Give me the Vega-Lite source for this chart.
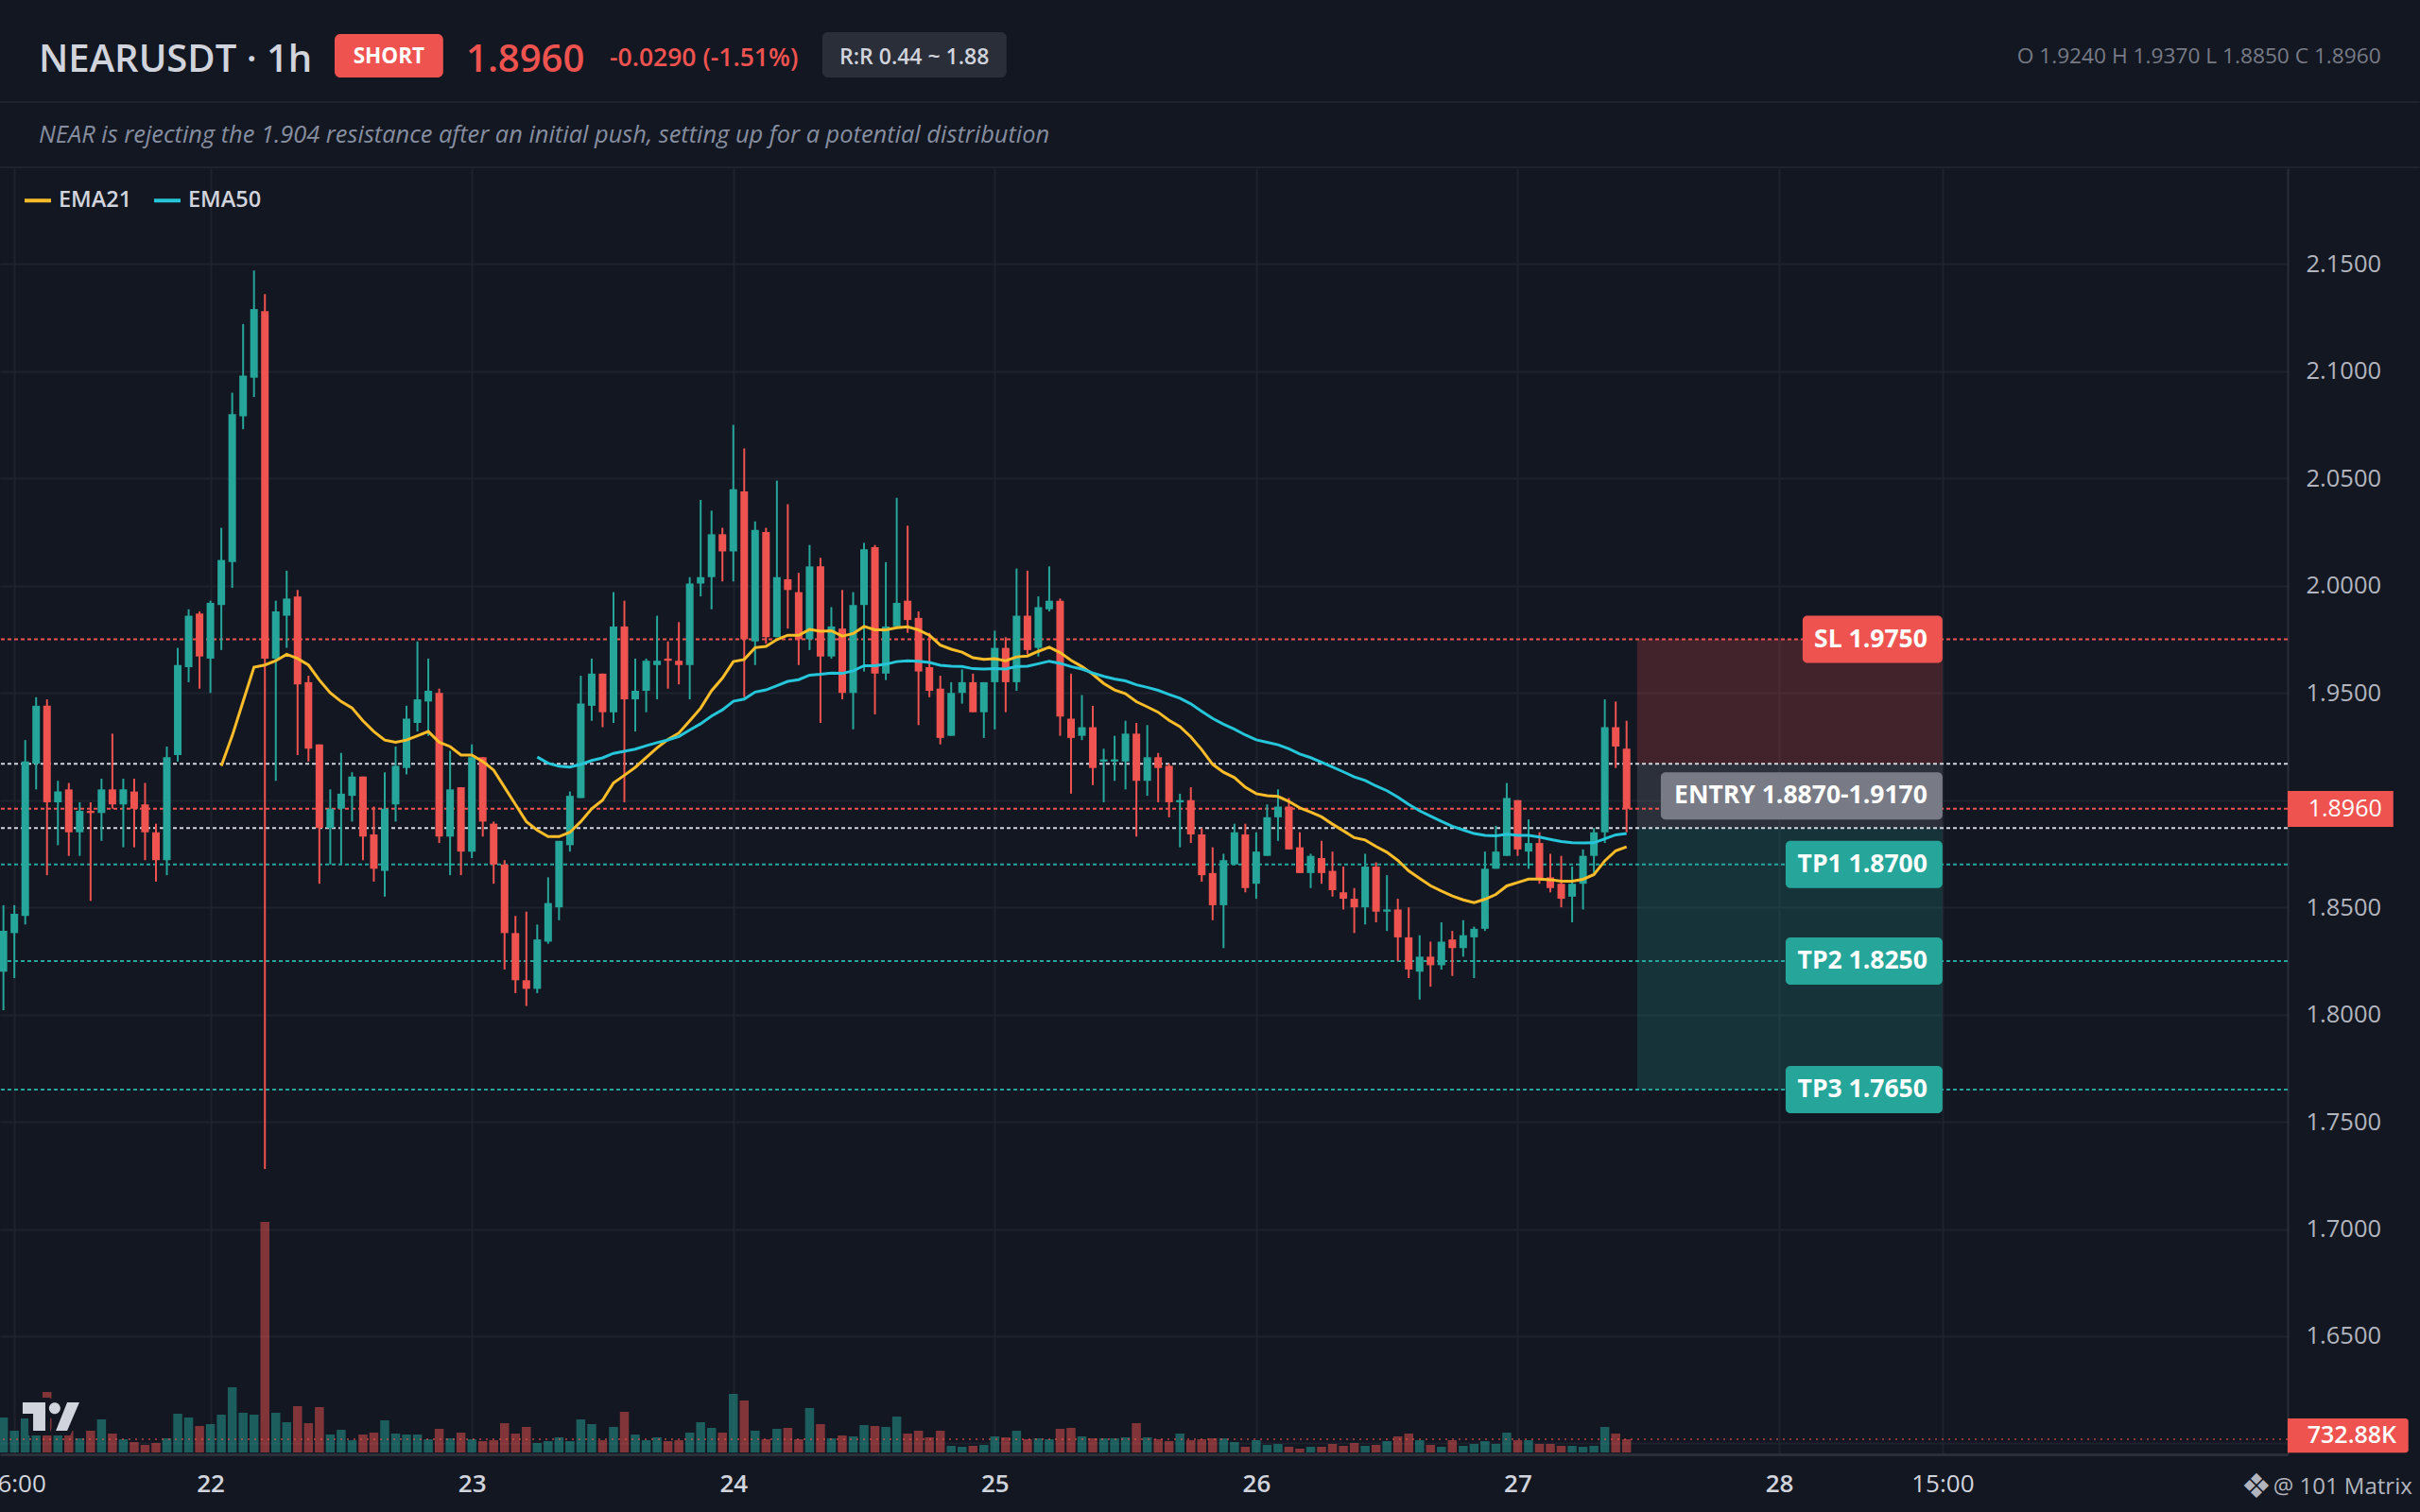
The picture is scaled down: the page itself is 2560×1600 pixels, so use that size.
{"$schema":"https://vega.github.io/schema/vega-lite/v6.json","width":2420,"height":1361,"autosize":"none","padding":{"left":0,"top":178,"right":140,"bottom":61},"background":"#131722","config":{"view":{"stroke":null},"font":"Open Sans"},
"title":{"text":"NEARUSDT · 1h","subtitle":"NEAR is rejecting the 1.904 resistance after an initial push, setting up for a potential distribution","anchor":"start","frame":"group","dx":41,"offset":-122,"font":"Open Sans","fontSize":40,"fontWeight":600,"color":"#d1d4dc","subtitleFont":"Open Sans","subtitleFontSize":25.4,"subtitleFontStyle":"italic","subtitleColor":"#868e9f","subtitlePadding":47},
"data":{"values":[
{"t":"2025-12-21T05:00Z","o":1.820,"h":1.851,"l":1.802,"c":1.839,"v":1937},
{"t":"2025-12-21T06:00Z","o":1.838,"h":1.851,"l":1.817,"c":1.847,"v":1204},
{"t":"2025-12-21T07:00Z","o":1.846,"h":1.928,"l":1.842,"c":1.918,"v":1937},
{"t":"2025-12-21T08:00Z","o":1.917,"h":1.948,"l":1.905,"c":1.944,"v":995},
{"t":"2025-12-21T09:00Z","o":1.944,"h":1.947,"l":1.865,"c":1.899,"v":3350},
{"t":"2025-12-21T10:00Z","o":1.899,"h":1.909,"l":1.879,"c":1.904,"v":995},
{"t":"2025-12-21T11:00Z","o":1.905,"h":1.908,"l":1.874,"c":1.885,"v":1204},
{"t":"2025-12-21T12:00Z","o":1.885,"h":1.899,"l":1.874,"c":1.895,"v":785},
{"t":"2025-12-21T13:00Z","o":1.895,"h":1.899,"l":1.853,"c":1.894,"v":1204},
{"t":"2025-12-21T14:00Z","o":1.894,"h":1.910,"l":1.881,"c":1.905,"v":1832},
{"t":"2025-12-21T15:00Z","o":1.905,"h":1.931,"l":1.896,"c":1.898,"v":1047},
{"t":"2025-12-21T16:00Z","o":1.898,"h":1.910,"l":1.878,"c":1.905,"v":733},
{"t":"2025-12-21T17:00Z","o":1.904,"h":1.910,"l":1.878,"c":1.896,"v":576},
{"t":"2025-12-21T18:00Z","o":1.898,"h":1.908,"l":1.872,"c":1.885,"v":419},
{"t":"2025-12-21T19:00Z","o":1.885,"h":1.889,"l":1.862,"c":1.872,"v":524},
{"t":"2025-12-21T20:00Z","o":1.872,"h":1.925,"l":1.865,"c":1.920,"v":785},
{"t":"2025-12-21T21:00Z","o":1.921,"h":1.971,"l":1.918,"c":1.963,"v":2146},
{"t":"2025-12-21T22:00Z","o":1.962,"h":1.989,"l":1.955,"c":1.986,"v":1937},
{"t":"2025-12-21T23:00Z","o":1.987,"h":1.988,"l":1.952,"c":1.967,"v":1466},
{"t":"2025-12-22T00:00Z","o":1.966,"h":1.993,"l":1.950,"c":1.992,"v":1571},
{"t":"2025-12-22T01:00Z","o":1.991,"h":2.027,"l":1.970,"c":2.012,"EMA21":1.916,"v":2094},
{"t":"2025-12-22T02:00Z","o":2.011,"h":2.090,"l":1.999,"c":2.080,"EMA21":1.930,"v":3612},
{"t":"2025-12-22T03:00Z","o":2.079,"h":2.122,"l":2.073,"c":2.098,"EMA21":1.946,"v":2199},
{"t":"2025-12-22T04:00Z","o":2.097,"h":2.147,"l":2.088,"c":2.129,"EMA21":1.962,"v":2094},
{"t":"2025-12-22T05:00Z","o":2.128,"h":2.136,"l":1.728,"c":1.966,"EMA21":1.963,"v":12773},
{"t":"2025-12-22T06:00Z","o":1.966,"h":1.993,"l":1.909,"c":1.988,"EMA21":1.965,"v":2199},
{"t":"2025-12-22T07:00Z","o":1.986,"h":2.007,"l":1.971,"c":1.994,"EMA21":1.968,"v":1675},
{"t":"2025-12-22T08:00Z","o":1.995,"h":1.998,"l":1.921,"c":1.954,"EMA21":1.966,"v":2565},
{"t":"2025-12-22T09:00Z","o":1.955,"h":1.958,"l":1.918,"c":1.924,"EMA21":1.963,"v":1623},
{"t":"2025-12-22T10:00Z","o":1.926,"h":1.926,"l":1.861,"c":1.887,"EMA21":1.956,"v":2513},
{"t":"2025-12-22T11:00Z","o":1.887,"h":1.905,"l":1.870,"c":1.896,"EMA21":1.950,"v":995},
{"t":"2025-12-22T12:00Z","o":1.896,"h":1.922,"l":1.870,"c":1.903,"EMA21":1.946,"v":1256},
{"t":"2025-12-22T13:00Z","o":1.902,"h":1.913,"l":1.890,"c":1.911,"EMA21":1.943,"v":681},
{"t":"2025-12-22T14:00Z","o":1.911,"h":1.911,"l":1.872,"c":1.883,"EMA21":1.937,"v":995},
{"t":"2025-12-22T15:00Z","o":1.884,"h":1.897,"l":1.862,"c":1.868,"EMA21":1.932,"v":1099},
{"t":"2025-12-22T16:00Z","o":1.867,"h":1.913,"l":1.855,"c":1.896,"EMA21":1.928,"v":1780},
{"t":"2025-12-22T17:00Z","o":1.898,"h":1.925,"l":1.890,"c":1.916,"EMA21":1.927,"v":1047},
{"t":"2025-12-22T18:00Z","o":1.915,"h":1.944,"l":1.912,"c":1.938,"EMA21":1.928,"v":995},
{"t":"2025-12-22T19:00Z","o":1.936,"h":1.974,"l":1.932,"c":1.947,"EMA21":1.930,"v":995},
{"t":"2025-12-22T20:00Z","o":1.946,"h":1.966,"l":1.930,"c":1.951,"EMA21":1.932,"v":733},
{"t":"2025-12-22T21:00Z","o":1.950,"h":1.952,"l":1.880,"c":1.883,"EMA21":1.927,"v":1309},
{"t":"2025-12-22T22:00Z","o":1.883,"h":1.923,"l":1.865,"c":1.905,"EMA21":1.925,"v":785},
{"t":"2025-12-22T23:00Z","o":1.906,"h":1.906,"l":1.865,"c":1.876,"EMA21":1.921,"v":1099},
{"t":"2025-12-23T00:00Z","o":1.876,"h":1.926,"l":1.873,"c":1.920,"EMA21":1.921,"v":733},
{"t":"2025-12-23T01:00Z","o":1.920,"h":1.920,"l":1.883,"c":1.890,"EMA21":1.918,"v":628},
{"t":"2025-12-23T02:00Z","o":1.889,"h":1.890,"l":1.861,"c":1.870,"EMA21":1.914,"v":681},
{"t":"2025-12-23T03:00Z","o":1.870,"h":1.872,"l":1.821,"c":1.838,"EMA21":1.906,"v":1623},
{"t":"2025-12-23T04:00Z","o":1.838,"h":1.846,"l":1.810,"c":1.816,"EMA21":1.898,"v":1047},
{"t":"2025-12-23T05:00Z","o":1.816,"h":1.848,"l":1.804,"c":1.812,"EMA21":1.890,"v":1413},
{"t":"2025-12-23T06:00Z","o":1.812,"h":1.842,"l":1.810,"c":1.835,"EMA21":1.886,"EMA50":1.9201,"v":524},
{"t":"2025-12-23T07:00Z","o":1.834,"h":1.864,"l":1.833,"c":1.852,"EMA21":1.883,"EMA50":1.9172,"v":628},
{"t":"2025-12-23T08:00Z","o":1.850,"h":1.881,"l":1.844,"c":1.881,"EMA21":1.883,"EMA50":1.9158,"v":838},
{"t":"2025-12-23T09:00Z","o":1.879,"h":1.904,"l":1.876,"c":1.902,"EMA21":1.885,"EMA50":1.9154,"v":628},
{"t":"2025-12-23T10:00Z","o":1.901,"h":1.958,"l":1.901,"c":1.945,"EMA21":1.890,"EMA50":1.9167,"v":1832},
{"t":"2025-12-23T11:00Z","o":1.944,"h":1.966,"l":1.937,"c":1.959,"EMA21":1.896,"EMA50":1.9185,"v":1571},
{"t":"2025-12-23T12:00Z","o":1.959,"h":1.959,"l":1.934,"c":1.941,"EMA21":1.900,"EMA50":1.9197,"v":681},
{"t":"2025-12-23T13:00Z","o":1.941,"h":1.997,"l":1.936,"c":1.981,"EMA21":1.9080,"EMA50":1.9218,"v":1413},
{"t":"2025-12-23T14:00Z","o":1.981,"h":1.993,"l":1.899,"c":1.947,"EMA21":1.9116,"EMA50":1.9228,"v":2251},
{"t":"2025-12-23T15:00Z","o":1.947,"h":1.966,"l":1.932,"c":1.951,"EMA21":1.9153,"EMA50":1.9238,"v":995},
{"t":"2025-12-23T16:00Z","o":1.951,"h":1.966,"l":1.941,"c":1.965,"EMA21":1.9199,"EMA50":1.9254,"v":681},
{"t":"2025-12-23T17:00Z","o":1.963,"h":1.986,"l":1.947,"c":1.965,"EMA21":1.9244,"EMA50":1.9268,"v":838},
{"t":"2025-12-23T18:00Z","o":1.966,"h":1.974,"l":1.952,"c":1.965,"EMA21":1.9283,"EMA50":1.9281,"v":628},
{"t":"2025-12-23T19:00Z","o":1.965,"h":1.983,"l":1.954,"c":1.963,"EMA21":1.9313,"EMA50":1.9297,"v":681},
{"t":"2025-12-23T20:00Z","o":1.963,"h":2.004,"l":1.947,"c":2.001,"EMA21":1.9370,"EMA50":1.9327,"v":1099},
{"t":"2025-12-23T21:00Z","o":2.001,"h":2.040,"l":1.995,"c":2.004,"EMA21":1.9429,"EMA50":1.9356,"v":1675},
{"t":"2025-12-23T22:00Z","o":2.004,"h":2.035,"l":1.989,"c":2.024,"EMA21":1.9510,"EMA50":1.9392,"v":1361},
{"t":"2025-12-23T23:00Z","o":2.024,"h":2.027,"l":2.002,"c":2.016,"EMA21":1.9569,"EMA50":1.9421,"v":1099},
{"t":"2025-12-24T00:00Z","o":2.016,"h":2.075,"l":2.002,"c":2.045,"EMA21":1.9646,"EMA50":1.9461,"v":3246},
{"t":"2025-12-24T01:00Z","o":2.044,"h":2.064,"l":1.948,"c":1.975,"EMA21":1.9656,"EMA50":1.9471,"v":2879},
{"t":"2025-12-24T02:00Z","o":1.974,"h":2.030,"l":1.963,"c":2.026,"EMA21":1.9711,"EMA50":1.9504,"v":1204},
{"t":"2025-12-24T03:00Z","o":2.025,"h":2.027,"l":1.973,"c":1.976,"EMA21":1.9717,"EMA50":1.9514,"v":733},
{"t":"2025-12-24T04:00Z","o":1.976,"h":2.049,"l":1.976,"c":2.004,"EMA21":1.9749,"EMA50":1.9534,"v":1309},
{"t":"2025-12-24T05:00Z","o":2.003,"h":2.038,"l":1.980,"c":1.998,"EMA21":1.9769,"EMA50":1.9554,"v":1361},
{"t":"2025-12-24T06:00Z","o":1.997,"h":2.006,"l":1.963,"c":1.975,"EMA21":1.9769,"EMA50":1.9562,"v":733},
{"t":"2025-12-24T07:00Z","o":1.975,"h":2.019,"l":1.970,"c":2.009,"EMA21":1.9796,"EMA50":1.9583,"v":2460},
{"t":"2025-12-24T08:00Z","o":2.009,"h":2.013,"l":1.936,"c":1.967,"EMA21":1.9788,"EMA50":1.9587,"v":1571},
{"t":"2025-12-24T09:00Z","o":1.967,"h":1.990,"l":1.966,"c":1.981,"EMA21":1.9790,"EMA50":1.9593,"v":785},
{"t":"2025-12-24T10:00Z","o":1.980,"h":1.998,"l":1.947,"c":1.950,"EMA21":1.9765,"EMA50":1.9591,"v":942},
{"t":"2025-12-24T11:00Z","o":1.950,"h":1.997,"l":1.933,"c":1.991,"EMA21":1.9777,"EMA50":1.9603,"v":890},
{"t":"2025-12-24T12:00Z","o":1.991,"h":2.020,"l":1.960,"c":2.017,"EMA21":1.9810,"EMA50":1.9627,"v":1518},
{"t":"2025-12-24T13:00Z","o":2.018,"h":2.019,"l":1.940,"c":1.959,"EMA21":1.9794,"EMA50":1.9627,"v":1466},
{"t":"2025-12-24T14:00Z","o":1.959,"h":2.011,"l":1.956,"c":1.981,"EMA21":1.9794,"EMA50":1.9634,"v":1413},
{"t":"2025-12-24T15:00Z","o":1.981,"h":2.041,"l":1.981,"c":1.992,"EMA21":1.9804,"EMA50":1.9646,"v":1989},
{"t":"2025-12-24T16:00Z","o":1.993,"h":2.028,"l":1.978,"c":1.984,"EMA21":1.9808,"EMA50":1.9650,"v":1047},
{"t":"2025-12-24T17:00Z","o":1.985,"h":1.988,"l":1.935,"c":1.960,"EMA21":1.9794,"EMA50":1.9648,"v":1204},
{"t":"2025-12-24T18:00Z","o":1.962,"h":1.978,"l":1.948,"c":1.951,"EMA21":1.9769,"EMA50":1.9642,"v":838},
{"t":"2025-12-24T19:00Z","o":1.952,"h":1.958,"l":1.926,"c":1.929,"EMA21":1.9723,"EMA50":1.9629,"v":1204},
{"t":"2025-12-24T20:00Z","o":1.930,"h":1.955,"l":1.930,"c":1.950,"EMA21":1.9704,"EMA50":1.9625,"v":366},
{"t":"2025-12-24T21:00Z","o":1.950,"h":1.961,"l":1.945,"c":1.955,"EMA21":1.9690,"EMA50":1.9623,"v":314},
{"t":"2025-12-24T22:00Z","o":1.955,"h":1.959,"l":1.941,"c":1.941,"EMA21":1.9664,"EMA50":1.9613,"v":366},
{"t":"2025-12-24T23:00Z","o":1.941,"h":1.955,"l":1.929,"c":1.955,"EMA21":1.9656,"EMA50":1.9611,"v":419},
{"t":"2025-12-25T00:00Z","o":1.955,"h":1.979,"l":1.933,"c":1.971,"EMA21":1.9660,"EMA50":1.9613,"v":890},
{"t":"2025-12-25T01:00Z","o":1.971,"h":1.976,"l":1.941,"c":1.955,"EMA21":1.9650,"EMA50":1.9611,"v":838},
{"t":"2025-12-25T02:00Z","o":1.955,"h":2.008,"l":1.951,"c":1.986,"EMA21":1.9668,"EMA50":1.9623,"v":1204},
{"t":"2025-12-25T03:00Z","o":1.986,"h":2.007,"l":1.968,"c":1.970,"EMA21":1.9672,"EMA50":1.9625,"v":733},
{"t":"2025-12-25T04:00Z","o":1.971,"h":1.995,"l":1.967,"c":1.990,"EMA21":1.9694,"EMA50":1.9636,"v":785},
{"t":"2025-12-25T05:00Z","o":1.989,"h":2.009,"l":1.988,"c":1.993,"EMA21":1.9713,"EMA50":1.9648,"v":733},
{"t":"2025-12-25T06:00Z","o":1.993,"h":1.994,"l":1.930,"c":1.939,"EMA21":1.9688,"EMA50":1.9638,"v":1309},
{"t":"2025-12-25T07:00Z","o":1.938,"h":1.959,"l":1.903,"c":1.929,"EMA21":1.9652,"EMA50":1.9623,"v":1361},
{"t":"2025-12-25T08:00Z","o":1.930,"h":1.949,"l":1.928,"c":1.934,"EMA21":1.9623,"EMA50":1.9611,"v":890},
{"t":"2025-12-25T09:00Z","o":1.934,"h":1.944,"l":1.907,"c":1.915,"EMA21":1.9587,"EMA50":1.9593,"v":785},
{"t":"2025-12-25T10:00Z","o":1.918,"h":1.924,"l":1.899,"c":1.919,"EMA21":1.9544,"EMA50":1.9577,"v":785},
{"t":"2025-12-25T11:00Z","o":1.918,"h":1.930,"l":1.909,"c":1.919,"EMA21":1.9514,"EMA50":1.9565,"v":785},
{"t":"2025-12-25T12:00Z","o":1.918,"h":1.937,"l":1.905,"c":1.931,"EMA21":1.9496,"EMA50":1.9556,"v":838},
{"t":"2025-12-25T13:00Z","o":1.931,"h":1.936,"l":1.883,"c":1.909,"EMA21":1.9459,"EMA50":1.9538,"v":1623},
{"t":"2025-12-25T14:00Z","o":1.909,"h":1.935,"l":1.902,"c":1.920,"EMA21":1.9435,"EMA50":1.9526,"v":838},
{"t":"2025-12-25T15:00Z","o":1.920,"h":1.922,"l":1.899,"c":1.915,"EMA21":1.9410,"EMA50":1.9512,"v":733},
{"t":"2025-12-25T16:00Z","o":1.916,"h":1.917,"l":1.892,"c":1.899,"EMA21":1.9372,"EMA50":1.9493,"v":628},
{"t":"2025-12-25T17:00Z","o":1.899,"h":1.903,"l":1.878,"c":1.900,"EMA21":1.9343,"EMA50":1.9475,"v":1047},
{"t":"2025-12-25T18:00Z","o":1.900,"h":1.906,"l":1.880,"c":1.884,"EMA21":1.9295,"EMA50":1.9449,"v":681},
{"t":"2025-12-25T19:00Z","o":1.884,"h":1.887,"l":1.862,"c":1.865,"EMA21":1.9235,"EMA50":1.9414,"v":733},
{"t":"2025-12-25T20:00Z","o":1.866,"h":1.878,"l":1.844,"c":1.851,"EMA21":1.9167,"EMA50":1.9381,"v":785},
{"t":"2025-12-25T21:00Z","o":1.851,"h":1.875,"l":1.831,"c":1.872,"EMA21":1.9130,"EMA50":1.9354,"v":785},
{"t":"2025-12-25T22:00Z","o":1.870,"h":1.889,"l":1.870,"c":1.885,"EMA21":1.9105,"EMA50":1.9331,"v":576},
{"t":"2025-12-25T23:00Z","o":1.884,"h":1.889,"l":1.857,"c":1.859,"EMA21":1.9060,"EMA50":1.9304,"v":314},
{"t":"2025-12-26T00:00Z","o":1.861,"h":1.885,"l":1.854,"c":1.876,"EMA21":1.9030,"EMA50":1.9281,"v":681},
{"t":"2025-12-26T01:00Z","o":1.874,"h":1.898,"l":1.874,"c":1.892,"EMA21":1.9021,"EMA50":1.9270,"v":419},
{"t":"2025-12-26T02:00Z","o":1.892,"h":1.905,"l":1.881,"c":1.897,"EMA21":1.9017,"EMA50":1.9258,"v":471},
{"t":"2025-12-26T03:00Z","o":1.897,"h":1.901,"l":1.877,"c":1.877,"EMA21":1.8994,"EMA50":1.9239,"v":314},
{"t":"2025-12-26T04:00Z","o":1.878,"h":1.885,"l":1.866,"c":1.866,"EMA21":1.8964,"EMA50":1.9215,"v":209},
{"t":"2025-12-26T05:00Z","o":1.866,"h":1.875,"l":1.859,"c":1.874,"EMA21":1.8944,"EMA50":1.9198,"v":314},
{"t":"2025-12-26T06:00Z","o":1.873,"h":1.881,"l":1.861,"c":1.866,"EMA21":1.8922,"EMA50":1.9177,"v":314},
{"t":"2025-12-26T07:00Z","o":1.867,"h":1.876,"l":1.855,"c":1.858,"EMA21":1.8888,"EMA50":1.9155,"v":471},
{"t":"2025-12-26T08:00Z","o":1.857,"h":1.869,"l":1.849,"c":1.854,"EMA21":1.8857,"EMA50":1.9132,"v":366},
{"t":"2025-12-26T09:00Z","o":1.854,"h":1.859,"l":1.838,"c":1.850,"EMA21":1.8825,"EMA50":1.9108,"v":524},
{"t":"2025-12-26T10:00Z","o":1.850,"h":1.875,"l":1.842,"c":1.869,"EMA21":1.8814,"EMA50":1.9092,"v":366},
{"t":"2025-12-26T11:00Z","o":1.869,"h":1.871,"l":1.843,"c":1.848,"EMA21":1.8784,"EMA50":1.9066,"v":419},
{"t":"2025-12-26T12:00Z","o":1.848,"h":1.865,"l":1.839,"c":1.849,"EMA21":1.8757,"EMA50":1.9044,"v":628},
{"t":"2025-12-26T13:00Z","o":1.849,"h":1.854,"l":1.825,"c":1.836,"EMA21":1.8719,"EMA50":1.9014,"v":890},
{"t":"2025-12-26T14:00Z","o":1.836,"h":1.850,"l":1.817,"c":1.821,"EMA21":1.8670,"EMA50":1.8980,"v":1047},
{"t":"2025-12-26T15:00Z","o":1.820,"h":1.837,"l":1.807,"c":1.827,"EMA21":1.8635,"EMA50":1.8950,"v":681},
{"t":"2025-12-26T16:00Z","o":1.827,"h":1.834,"l":1.813,"c":1.823,"EMA21":1.8601,"EMA50":1.8925,"v":419},
{"t":"2025-12-26T17:00Z","o":1.823,"h":1.843,"l":1.821,"c":1.834,"EMA21":1.8576,"EMA50":1.8901,"v":314},
{"t":"2025-12-26T18:00Z","o":1.835,"h":1.839,"l":1.818,"c":1.831,"EMA21":1.8553,"EMA50":1.8878,"v":681},
{"t":"2025-12-26T19:00Z","o":1.831,"h":1.844,"l":1.827,"c":1.837,"EMA21":1.8535,"EMA50":1.8861,"v":366},
{"t":"2025-12-26T20:00Z","o":1.836,"h":1.841,"l":1.817,"c":1.840,"EMA21":1.8522,"EMA50":1.8844,"v":471},
{"t":"2025-12-26T21:00Z","o":1.840,"h":1.876,"l":1.839,"c":1.868,"EMA21":1.8538,"EMA50":1.8836,"v":628},
{"t":"2025-12-26T22:00Z","o":1.868,"h":1.888,"l":1.868,"c":1.876,"EMA21":1.8560,"EMA50":1.8833,"v":471},
{"t":"2025-12-26T23:00Z","o":1.874,"h":1.908,"l":1.874,"c":1.901,"EMA21":1.8600,"EMA50":1.8841,"v":1099},
{"t":"2025-12-27T00:00Z","o":1.900,"h":1.900,"l":1.874,"c":1.877,"EMA21":1.8616,"EMA50":1.8836,"v":681},
{"t":"2025-12-27T01:00Z","o":1.876,"h":1.891,"l":1.868,"c":1.880,"EMA21":1.8632,"EMA50":1.8836,"v":681},
{"t":"2025-12-27T02:00Z","o":1.880,"h":1.885,"l":1.861,"c":1.863,"EMA21":1.8632,"EMA50":1.8828,"v":471},
{"t":"2025-12-27T03:00Z","o":1.864,"h":1.875,"l":1.857,"c":1.859,"EMA21":1.8629,"EMA50":1.8817,"v":471},
{"t":"2025-12-27T04:00Z","o":1.861,"h":1.874,"l":1.850,"c":1.854,"EMA21":1.8622,"EMA50":1.8807,"v":366},
{"t":"2025-12-27T05:00Z","o":1.855,"h":1.869,"l":1.843,"c":1.861,"EMA21":1.8622,"EMA50":1.8801,"v":366},
{"t":"2025-12-27T06:00Z","o":1.861,"h":1.877,"l":1.849,"c":1.874,"EMA21":1.8631,"EMA50":1.8800,"v":314},
{"t":"2025-12-27T07:00Z","o":1.874,"h":1.887,"l":1.866,"c":1.885,"EMA21":1.8653,"EMA50":1.8801,"v":366},
{"t":"2025-12-27T08:00Z","o":1.885,"h":1.947,"l":1.880,"c":1.934,"EMA21":1.8717,"EMA50":1.8820,"v":1413},
{"t":"2025-12-27T09:00Z","o":1.934,"h":1.946,"l":1.915,"c":1.925,"EMA21":1.8764,"EMA50":1.8838,"v":1047},
{"t":"2025-12-27T10:00Z","o":1.924,"h":1.937,"l":1.885,"c":1.896,"EMA21":1.8782,"EMA50":1.8844,"v":733}
]},
"layer":[
{"layer":[
{"mark":{"type":"bar","width":9.5,"opacity":0.5},"encoding":{
"x":{"field":"t","type":"temporal","scale":{"type":"utc","padding":0,"domain":[{"year":2025,"month":12,"date":21,"hours":4,"minutes":41,"utc":true},{"year":2025,"month":12,"date":29,"hours":22,"minutes":41,"utc":true}]},"axis":{"title":null,"values":[{"year":2025,"month":12,"date":21,"hours":6,"utc":true},{"year":2025,"month":12,"date":22,"hours":0,"utc":true},{"year":2025,"month":12,"date":23,"hours":0,"utc":true},{"year":2025,"month":12,"date":24,"hours":0,"utc":true},{"year":2025,"month":12,"date":25,"hours":0,"utc":true},{"year":2025,"month":12,"date":26,"hours":0,"utc":true},{"year":2025,"month":12,"date":27,"hours":0,"utc":true},{"year":2025,"month":12,"date":28,"hours":0,"utc":true},{"year":2025,"month":12,"date":28,"hours":15,"utc":true}],"labelExpr":"utchours(datum.value)==0 ? utcFormat(datum.value,'%d') : utcFormat(datum.value,'%H:%M')","labelOverlap":false,"labelBound":false,"labelFlush":false,"labelFont":"Open Sans","labelFontSize":26,"labelFontWeight":{"condition":{"test":"utchours(datum.value)==0","value":600},"value":400},"labelColor":"#d1d4dc","labelPadding":18,"ticks":false,"grid":true,"gridColor":"#1e222d","gridWidth":2,"domain":true,"domainColor":"#2a2e39","domainWidth":3}},
"y":{"field":"v","type":"quantitative","title":"Volume (K)","stack":null,"scale":{"domain":[-105,71140],"nice":false,"zero":false},"axis":null},
"color":{"condition":{"test":"datum.c>=datum.o","value":"#26a69a"},"value":"#ef5350"}}},
{"data":{"values":[{"last":732.88}]},"mark":{"type":"rule","color":"#ef5350","opacity":0.55,"strokeWidth":2,"strokeDash":[2,5]},"encoding":{"y":{"field":"last","type":"quantitative"}}},
{"data":{"values":[{"label":"732.88K"}]},"mark":{"type":"rect","color":"#ef5350","cornerRadiusTopRight":3,"cornerRadiusBottomRight":3},"encoding":{"x":{"datum":{"year":2025,"month":12,"date":29,"hours":22,"minutes":41,"utc":true}},"x2":{"datum":{"year":2025,"month":12,"date":30,"hours":9,"minutes":46,"utc":true}},"y":{"datum":1885,"type":"quantitative"},"y2":{"datum":-10}}},
{"data":{"values":[{"label":"732.88K"}]},"mark":{"type":"text","align":"left","baseline":"middle","font":"Open Sans","fontSize":25,"fontWeight":600,"color":"#ffffff"},"encoding":{"x":{"datum":{"year":2025,"month":12,"date":30,"hours":0,"minutes":29,"utc":true}},"y":{"datum":942,"type":"quantitative"},"text":{"field":"label"}}}
]},
{"layer":[
{"data":{"values":[{"zone":"risk","lo":1.917,"hi":1.975},{"zone":"hold","lo":1.887,"hi":1.917},{"zone":"reward","lo":1.765,"hi":1.887}]},"mark":{"type":"rect"},"encoding":{"x":{"datum":{"year":2025,"month":12,"date":27,"hours":10,"minutes":58,"utc":true}},"x2":{"datum":{"year":2025,"month":12,"date":28,"hours":15,"minutes":0,"utc":true}},
"y":{"field":"lo","type":"quantitative","scale":{"domain":[1.5949,2.1947],"nice":false,"zero":false},"axis":{"title":null,"orient":"right","values":[1.6,1.65,1.7,1.75,1.8,1.85,1.9,1.95,2,2.05,2.1,2.15],"labelExpr":"(datum.value<1.62 || abs(datum.value-1.9)<0.001) ? '' : format(datum.value,'.4f')","labelFont":"Open Sans","labelFontSize":25.5,"labelColor":"#b2b5be","labelPadding":19,"labelBound":false,"labelFlush":false,"ticks":false,"grid":true,"gridColor":"#1e222d","gridWidth":2,"domain":true,"domainColor":"#2a2e39","domainWidth":2}},
"y2":{"field":"hi"},"fill":{"field":"zone","type":"nominal","scale":{"domain":["risk","hold","reward"],"range":["rgba(239,83,80,0.22)","rgba(120,123,134,0.25)","rgba(38,166,154,0.2)"]},"legend":null}}},
{"data":{"values":[{"price":1.975,"kind":"sl"},{"price":1.917,"kind":"entry"},{"price":1.896,"kind":"last"},{"price":1.887,"kind":"entry"},{"price":1.87,"kind":"tp"},{"price":1.825,"kind":"tp"},{"price":1.765,"kind":"tp"}]},"mark":{"type":"rule","strokeWidth":2,"strokeDash":[4,3]},"encoding":{"y":{"field":"price","type":"quantitative"},"color":{"field":"kind","type":"nominal","scale":{"domain":["sl","entry","last","tp"],"range":["#ef5350","#d1d4dc","#ef5350","#26a69a"]},"legend":null}}},
{"mark":{"type":"rule","strokeWidth":2},"encoding":{"x":{"field":"t","type":"temporal"},"y":{"field":"l","type":"quantitative"},"y2":{"field":"h"},"color":{"condition":{"test":"datum.c>=datum.o","value":"#26a69a"},"value":"#ef5350"}}},
{"mark":{"type":"bar","width":8},"encoding":{"x":{"field":"t","type":"temporal"},"y":{"field":"o","type":"quantitative"},"y2":{"field":"c"},"color":{"condition":{"test":"datum.c>=datum.o","value":"#26a69a"},"value":"#ef5350"}}},
{"transform":[{"fold":["EMA21","EMA50"]},{"filter":"isValid(datum.value)"}],"mark":{"type":"line","strokeWidth":3},"encoding":{"x":{"field":"t","type":"temporal"},"y":{"field":"value","type":"quantitative"},"stroke":{"field":"key","type":"nominal","scale":{"domain":["EMA21","EMA50"],"range":["#fbbc2a","#26c6da"]},"legend":{"orient":"none","legendX":24,"legendY":18,"direction":"horizontal","title":null,"symbolType":"stroke","symbolSize":784,"symbolStrokeWidth":4,"labelFont":"Open Sans","labelFontSize":23.5,"labelFontWeight":600,"labelColor":"#d1d4dc","labelOffset":6,"columnPadding":15}}}},
{"data":{"values":[{"label":"SL 1.9750","price":1.975,"kind":"sl"},{"label":"ENTRY 1.8870-1.9170","price":1.902,"kind":"entry"},{"label":"TP1 1.8700","price":1.87,"kind":"tp"},{"label":"TP2 1.8250","price":1.825,"kind":"tp"},{"label":"TP3 1.7650","price":1.765,"kind":"tp"}]},"transform":[{"calculate":"toDate('2025-12-28T15:00:00Z') - (15*length(datum.label)+13+(datum.kind=='tp'?3:0))*312360","as":"boxStart"}],"layer":[
{"mark":{"type":"rect","height":50,"cornerRadius":5},"encoding":{"x":{"field":"boxStart","type":"temporal"},"x2":{"datum":{"year":2025,"month":12,"date":28,"hours":15,"minutes":0,"utc":true}},"y":{"field":"price","type":"quantitative"},"fill":{"field":"kind","type":"nominal","scale":{"domain":["sl","entry","tp"],"range":["#ef5350","#787b86","#26a69a"]},"legend":null}}},
{"mark":{"type":"text","align":"right","baseline":"middle","dx":-16,"font":"Open Sans","fontSize":26.5,"fontWeight":700,"color":"#ffffff"},"encoding":{"x":{"datum":{"year":2025,"month":12,"date":28,"hours":15,"minutes":0,"utc":true}},"y":{"field":"price","type":"quantitative"},"text":{"field":"label"}}}
],"resolve":{"scale":{"fill":"independent"}}},
{"data":{"values":[{"label":"1.8960"}]},"layer":[
{"mark":{"type":"rect","color":"#ef5350"},"encoding":{"x":{"datum":{"year":2025,"month":12,"date":29,"hours":22,"minutes":41,"utc":true}},"x2":{"datum":{"year":2025,"month":12,"date":30,"hours":8,"minutes":23,"utc":true}},"y":{"datum":1.9043,"type":"quantitative"},"y2":{"datum":1.8875}}},
{"mark":{"type":"text","align":"left","baseline":"middle","font":"Open Sans","fontSize":25,"color":"#ffffff"},"encoding":{"x":{"datum":{"year":2025,"month":12,"date":30,"hours":0,"minutes":34,"utc":true}},"y":{"datum":1.896,"type":"quantitative"},"text":{"field":"label"}}}
]},
{"data":{"values":[{"row":"header rule"}]},"mark":{"type":"rule","color":"#1e222d","strokeWidth":2},"encoding":{"x":{"datum":{"year":2025,"month":12,"date":21,"hours":4,"minutes":41,"utc":true}},"x2":{"datum":{"year":2025,"month":12,"date":30,"hours":10,"minutes":48,"utc":true}},"y":{"datum":2.2255,"type":"quantitative"}}},
{"data":{"values":[{"row":"note rule"}]},"mark":{"type":"rule","color":"#1e222d","strokeWidth":2},"encoding":{"x":{"datum":{"year":2025,"month":12,"date":21,"hours":4,"minutes":41,"utc":true}},"x2":{"datum":{"year":2025,"month":12,"date":30,"hours":10,"minutes":48,"utc":true}},"y":{"datum":2.1951,"type":"quantitative"}}},
{"data":{"values":[{"label":"SHORT"}]},"layer":[
{"mark":{"type":"rect","color":"#ef5350","cornerRadius":6},"encoding":{"x":{"datum":{"year":2025,"month":12,"date":22,"hours":11,"minutes":24,"utc":true}},"x2":{"datum":{"year":2025,"month":12,"date":22,"hours":21,"minutes":22,"utc":true}},"y":{"datum":2.2573,"type":"quantitative"},"y2":{"datum":2.2370}}},
{"mark":{"type":"text","align":"center","baseline":"alphabetic","font":"Open Sans","fontSize":22.5,"fontWeight":700,"color":"#ffffff"},"encoding":{"x":{"datum":{"year":2025,"month":12,"date":22,"hours":16,"minutes":23,"utc":true}},"y":{"datum":2.2435,"type":"quantitative"},"text":{"field":"label"}}}
]},
{"data":{"values":[{"label":"1.8960"}]},"mark":{"type":"text","align":"left","baseline":"alphabetic","font":"Open Sans","fontSize":40,"fontWeight":600,"color":"#ef5350"},"encoding":{"x":{"datum":{"year":2025,"month":12,"date":22,"hours":23,"minutes":28,"utc":true}},"y":{"datum":2.2396,"type":"quantitative"},"text":{"field":"label"}}},
{"data":{"values":[{"label":"-0.0290 (-1.51%)"}]},"mark":{"type":"text","align":"left","baseline":"alphabetic","font":"Open Sans","fontSize":26.5,"fontWeight":600,"color":"#ef5350"},"encoding":{"x":{"datum":{"year":2025,"month":12,"date":23,"hours":12,"minutes":39,"utc":true}},"y":{"datum":2.2423,"type":"quantitative"},"text":{"field":"label"}}},
{"data":{"values":[{"label":"R:R 0.44 ~ 1.88"}]},"layer":[
{"mark":{"type":"rect","color":"#2a2e39","cornerRadius":6},"encoding":{"x":{"datum":{"year":2025,"month":12,"date":24,"hours":8,"minutes":10,"utc":true}},"x2":{"datum":{"year":2025,"month":12,"date":25,"hours":1,"minutes":5,"utc":true}},"y":{"datum":2.2582,"type":"quantitative"},"y2":{"datum":2.2370}}},
{"mark":{"type":"text","align":"center","baseline":"alphabetic","font":"Open Sans","fontSize":23,"fontWeight":600,"color":"#d1d4dc"},"encoding":{"x":{"datum":{"year":2025,"month":12,"date":24,"hours":16,"minutes":37,"utc":true}},"y":{"datum":2.2432,"type":"quantitative"},"text":{"field":"label"}}}
]},
{"data":{"values":[{"label":"O 1.9240 H 1.9370 L 1.8850 C 1.8960"}]},"mark":{"type":"text","align":"right","baseline":"alphabetic","font":"Open Sans","fontSize":22.7,"color":"#787b86"},"encoding":{"x":{"datum":{"year":2025,"month":12,"date":30,"hours":7,"minutes":15,"utc":true}},"y":{"datum":2.2436,"type":"quantitative"},"text":{"field":"label"}}},
{"data":{"values":[{"label":"@ 101 Matrix"}]},"mark":{"type":"text","align":"right","baseline":"middle","font":"Open Sans","fontSize":24,"color":"#b2b5be"},"encoding":{"x":{"datum":{"year":2025,"month":12,"date":30,"hours":10,"minutes":7,"utc":true}},"y":{"datum":1.5794,"type":"quantitative"},"text":{"field":"label"}}},
{"data":{"values":[{"label":"❖"}]},"mark":{"type":"text","align":"center","baseline":"middle","font":"DejaVu Sans","fontSize":36,"color":"#b2b5be"},"encoding":{"x":{"datum":{"year":2025,"month":12,"date":29,"hours":19,"minutes":48,"utc":true}},"y":{"datum":1.5794,"type":"quantitative"},"text":{"field":"label"}}},
{"data":{"values":[{"label":"TradingView logo"}]},"layer":[
{"mark":{"type":"point","shape":"M-1 -.5H-.2V.5H-.63V-.1H-1ZM-.07 -.29a.2 .2 0 1 0 .4 0a.2 .2 0 1 0 -.4 0ZM.57 -.5H1L.57 .5H.17Z","size":3600,"filled":true,"fill":"#131722","stroke":"#131722","strokeWidth":10,"opacity":1},"encoding":{"x":{"datum":{"year":2025,"month":12,"date":21,"hours":9,"minutes":22,"utc":true}},"y":{"datum":1.6125,"type":"quantitative"}}},
{"mark":{"type":"point","shape":"M-1 -.5H-.2V.5H-.63V-.1H-1ZM-.07 -.29a.2 .2 0 1 0 .4 0a.2 .2 0 1 0 -.4 0ZM.57 -.5H1L.57 .5H.17Z","size":3600,"filled":true,"fill":"#d1d4dc","opacity":1},"encoding":{"x":{"datum":{"year":2025,"month":12,"date":21,"hours":9,"minutes":22,"utc":true}},"y":{"datum":1.6125,"type":"quantitative"}}}
]}
]}
],
"resolve":{"scale":{"y":"independent"}}}
